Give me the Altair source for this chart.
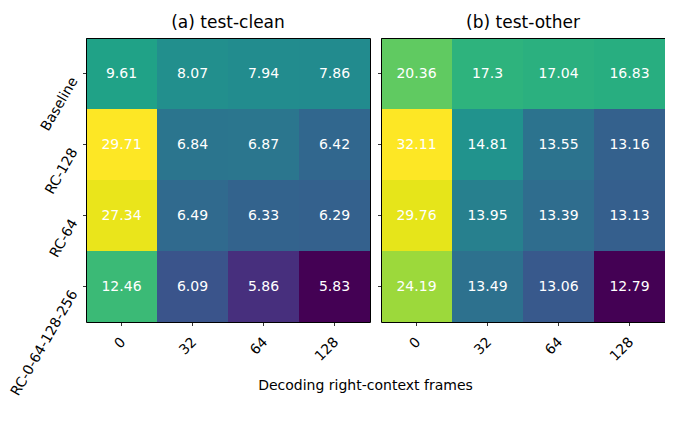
import altair as alt
import pandas as pd

rows = ["Baseline", "RC-128", "RC-64", "RC-0-64-128-256"]
cols = ["0", "32", "64", "128"]
clean = [
    [9.61, 8.07, 7.94, 7.86],
    [29.71, 6.84, 6.87, 6.42],
    [27.34, 6.49, 6.33, 6.29],
    [12.46, 6.09, 5.86, 5.83],
]
other = [
    [20.36, 17.3, 17.04, 16.83],
    [32.11, 14.81, 13.55, 13.16],
    [29.76, 13.95, 13.39, 13.13],
    [24.19, 13.49, 13.06, 12.79],
]
titles = ["(a) test-clean", "(b) test-other"]
x_title = "Decoding right-context frames"

FONT = "DejaVu Sans"


def make_df(vals):
    recs = []
    for i, r in enumerate(rows):
        for j, c in enumerate(cols):
            recs.append({"row": r, "col": c, "value": vals[i][j], "label": str(vals[i][j])})
    return pd.DataFrame(recs)


def panel(vals, title, first):
    df = make_df(vals)
    base = (
        alt.Chart(df)
        .transform_joinaggregate(mn="min(value)")
        .transform_calculate(z="datum.value - datum.mn")
    )
    xaxis = alt.Axis(
        labelAngle=-45, labelAlign="right", labelBaseline="middle", labelPadding=14, labelOffset=2,
        tickSize=3.5, tickColor="black", tickWidth=0.8, domain=True, domainColor="black", domainWidth=1,
        grid=False, labelColor="black", zindex=1,
        labelFontSize=14, labelFont=FONT,
        title=x_title if first else None,
        titleX=279, titleY=63, titleAlign="center", titleBaseline="middle",
        titleFontSize=14, titleFont=FONT, titleFontWeight="normal", titleColor="black",
    )
    yaxis = alt.Axis(
        labelAngle=-60, labelAlign="right", labelBaseline="middle", labelPadding=8.5, labelOffset=5,
        tickSize=3.5, tickColor="black", tickWidth=0.8, domain=True, domainColor="black", domainWidth=1,
        grid=False, labelColor="black", zindex=1,
        labelFontSize=14, labelFont=FONT, labels=first, title=None,
    )
    frame_x = alt.Axis(orient="top", labels=False, ticks=False, grid=False, title=None,
                       domain=True, domainColor="black", domainWidth=1, zindex=1)
    frame_y = alt.Axis(orient="right", labels=False, ticks=False, grid=False, title=None,
                       domain=True, domainColor="black", domainWidth=1, zindex=1)
    rect = base.mark_rect().encode(
        x=alt.X("col:O", sort=cols, axis=xaxis),
        y=alt.Y("row:O", sort=rows, axis=yaxis),
        color=alt.Color("z:Q", scale=alt.Scale(type="pow", exponent=0.3, scheme="viridis"), legend=None),
    )
    text = base.mark_text(color="white", fontSize=14, font=FONT).encode(
        x=alt.X("col:O", sort=cols, axis=frame_x),
        y=alt.Y("row:O", sort=rows, axis=frame_y),
        text="label:N",
    )
    return (
        alt.layer(rect, text)
        .resolve_axis(x="independent", y="independent")
        .properties(
            width=284, height=284,
            view=alt.ViewBackground(stroke=None),
            title=alt.TitleParams(title, fontSize=17, font=FONT, fontWeight="normal", color="black", offset=6),
        )
    )


chart = (
    alt.hconcat(panel(clean, titles[0], True), panel(other, titles[1], False), spacing=11, bounds="flush")
    .resolve_scale(color="independent")
    .properties(padding={"left": 0, "right": 0, "top": 6, "bottom": 0})
    .configure(background="white")
)

chart.save("out.html", embed_options={"renderer": "svg", "actions": False})
